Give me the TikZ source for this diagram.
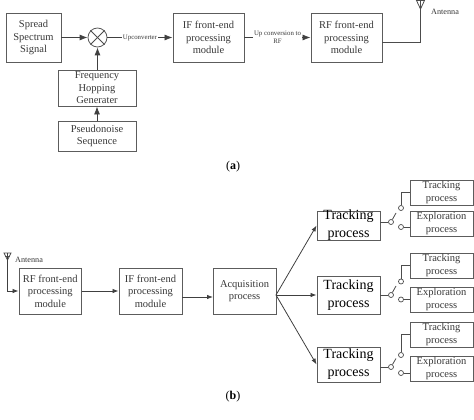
\documentclass[tikz,border=0pt]{standalone}
\usepackage{fontspec}
\setmainfont{Liberation Serif}
\usetikzlibrary{arrows.meta, positioning}
\definecolor{boxgray}{rgb}{.36,.36,.36}
\definecolor{txtgray}{rgb}{.22,.22,.22}
\tikzset{
  modbox/.style={draw=boxgray, line width=.9pt, inner sep=0pt, align=center, text=txtgray,
    font=\fontsize{10.5}{12.5}\selectfont},
  bigbox/.style={modbox, inner ysep=-5pt, text=black, font=\fontsize{14}{18}\selectfont},
  subbox/.style={modbox, minimum width=63pt, minimum height=25pt},
  flow/.style={draw=black!75, line width=.8pt, -{Latex[length=6pt,width=4.5pt]}},
  flowbig/.style={flow, -{Latex[length=8pt,width=6pt]}},
  wire/.style={draw=black!70, line width=.8pt},
  contact/.style={circle, draw=black!70, line width=.7pt, fill=white, inner sep=0pt, minimum size=5pt},
  lbl/.style={fill=white, inner sep=1pt, align=center, text=txtgray, font=\fontsize{6.8}{8}\selectfont},
  antlbl/.style={inner sep=0pt, text=txtgray, font=\fontsize{8.2}{10}\selectfont},
  sublbl/.style={inner sep=0pt, font=\fontsize{12}{14}\selectfont}
}
\begin{document}
\begin{tikzpicture}[x=1pt,y=-1pt]
\useasboundingbox (0,0) rectangle (474,420);
% part a
\node[modbox, minimum width=55pt, minimum height=49pt] (spread) at (33.5,37.5) {Spread\\Spectrum\\Signal};
\node[circle, draw=boxgray, line width=.8pt, inner sep=0pt, minimum size=19pt] (mixer) at (97.5,37.5) {};
\draw[wire] (mixer.north west)--(mixer.south east);
\draw[wire] (mixer.north east)--(mixer.south west);
\node[modbox, minimum width=71pt, minimum height=49pt] (iffront) at (208.5,37.5) {IF front-end\\processing\\module};
\node[modbox, minimum width=71pt, minimum height=49pt] (rffront) at (346.5,37.5) {RF front-end\\processing\\module};
\node[modbox, minimum width=78pt, minimum height=36pt] (hopping) at (97,88) {Frequency\\Hopping\\Generater};
\node[modbox, minimum width=78pt, minimum height=30pt] (pseudo) at (97,136) {Pseudonoise\\Sequence};
\draw[flowbig] (spread)--(mixer);
\draw[flowbig] (mixer)-- node[lbl] (upconv) {Upconverter} (iffront);
\draw[flowbig] (iffront)-- node[lbl] (uprf) {Up conversion to\\RF} (rffront);
\draw[flowbig] (hopping.north -| mixer)--(mixer);
\draw[flowbig] (pseudo)--(hopping);
% antenna of part a
\coordinate (antA) at (420.5,0);
\coordinate (rfout) at (382,42.5);
\draw[wire] (rfout) -| (antA);
\draw[wire] (416.5,0.5)--(424.5,0.5)--(420.5,9)--cycle;
\node[antlbl] (antlblA) at (445,11.5) {Antenna};
\node[sublbl] (capa) at (233,167) {(\textbf{a})};
% part b
\node[modbox, minimum width=62.5pt, minimum height=46pt] (rfrecv) at (50.25,291) {RF front-end\\processing\\module};
\node[modbox, minimum width=63pt, minimum height=46pt] (ifrecv) at (150.5,291) {IF front-end\\processing\\module};
\node[modbox, minimum width=63pt, minimum height=46pt] (acq) at (244.5,291) {Acquisition\\process};
\coordinate (antB) at (7.5,253);
\draw[wire] (4,253)--(11,253)--(7.5,260)--cycle;
\draw[wire] (5,256)--(10,256);
\draw[flow] (antB) |- (rfrecv.west);
\node[antlbl] (antlblB) at (29,260) {Antenna};
\draw[flow] (rfrecv)--(ifrecv);
\coordinate (acqin) at (213,297);
\coordinate (acqout) at (276,295);
\draw[flow] (acqin -| ifrecv.east)--(acqin);
\node[bigbox, minimum width=63pt, minimum height=29pt] (trackA) at (348.5,225.5) {Tracking\\process};
\node[bigbox, minimum width=63pt, minimum height=38pt] (trackB) at (348.5,295) {Tracking\\process};
\node[bigbox, minimum width=63pt, minimum height=35pt] (trackC) at (348.5,364.5) {Tracking\\process};
\draw[flow] (acqout)--(trackA.west);
\draw[flow] (acqout)--(trackB.west);
\draw[flow] (acqout)--(trackC.west);
% upper switch
\node[subbox] (subtrA) at (441.5,192.5) {Tracking\\process};
\node[subbox] (subexA) at (441.5,223.5) {Exploration\\process};
\node[contact] (pivA) at (391,222) {};
\node[contact] (upA) at (401,208) {};
\node[contact] (lowA) at (401,227) {};
\coordinate (bladeA) at (396,213);
\draw[wire] (pivA -| trackA.east)--(pivA);
\draw[wire] (pivA)--(bladeA);
\draw[wire] (upA) |- (subtrA.west);
\draw[wire] (lowA)--(lowA -| subexA.west);
% middle switch
\node[subbox] (subtrB) at (441.5,265.5) {Tracking\\process};
\node[subbox] (subexB) at (441.5,299.5) {Exploration\\process};
\node[contact] (pivB) at (391,295) {};
\node[contact] (upB) at (401,281.5) {};
\node[contact] (lowB) at (401,299.5) {};
\coordinate (bladeB) at (396,286);
\draw[wire] (pivB -| trackB.east)--(pivB);
\draw[wire] (pivB)--(bladeB);
\draw[wire] (upB) |- (subtrB.west);
\draw[wire] (lowB)--(lowB -| subexB.west);
% lower switch
\node[subbox] (subtrC) at (441.5,334.5) {Tracking\\process};
\node[subbox] (subexC) at (441.5,368.5) {Exploration\\process};
\node[contact] (pivC) at (391,367) {};
\node[contact] (upC) at (401,355) {};
\node[contact] (lowC) at (401,373) {};
\coordinate (bladeC) at (396,358.5);
\draw[wire] (pivC -| trackC.east)--(pivC);
\draw[wire] (pivC)--(bladeC);
\draw[wire] (upC) |- (subtrC.west);
\draw[wire] (lowC)--(lowC -| subexC.west);
\node[sublbl] (capb) at (233,397) {(\textbf{b})};
\end{tikzpicture}
\end{document}
